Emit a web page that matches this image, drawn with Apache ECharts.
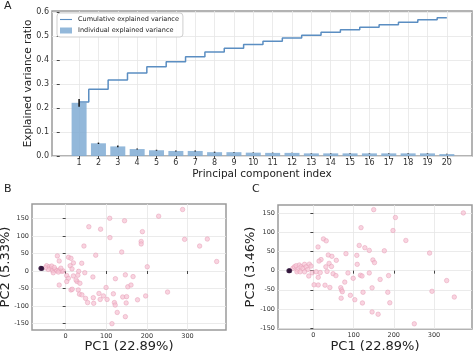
<!DOCTYPE html>
<html>
<head>
<meta charset="utf-8">
<script src="https://cdn.jsdelivr.net/npm/echarts@6/dist/echarts.min.js"></script>
<style>
  html, body { margin: 0; padding: 0; background: #fff; }
  #chart { width: 474px; height: 351px; }
</style>
</head>
<body>
<div id="chart"></div>
<script>
// ---------- Panel A: explained variance ----------
const components = [1, 2, 3, 4, 5, 6, 7, 8, 9, 10, 11, 12, 13, 14, 15, 16, 17, 18, 19, 20];
const individualVar = [0.222, 0.053, 0.040, 0.029, 0.024, 0.021, 0.021, 0.016, 0.016, 0.014,
                       0.013, 0.013, 0.011, 0.011, 0.011, 0.011, 0.011, 0.011, 0.011, 0.008];
const individualErr = [0.016, 0.003, 0.004, 0.002, 0.002, 0.002, 0.002, 0.002, 0.001, 0.001,
                       0.001, 0.001, 0.001, 0.001, 0.001, 0.001, 0.001, 0.001, 0.001, 0.001];
const cumulativeVar = [0.225, 0.278, 0.317, 0.346, 0.372, 0.393, 0.414, 0.434, 0.450, 0.465,
                       0.479, 0.492, 0.504, 0.516, 0.527, 0.537, 0.548, 0.558, 0.568, 0.577];
const varTicks = [0, 0.1, 0.2, 0.3, 0.4, 0.5, 0.6];

// ---------- Panels B / C: PCA scores ----------
const pcTicksX = [0, 100, 200, 300];
const pcTicksY = [-150, -100, -50, 0, 50, 100, 150];

const pc1pc2 = [
  [288, 175], [229, 156], [108.5, 150], [145, 143], [57, 126], [86, 119], [189, 112],
  [109, 95], [186, 84], [186, 77], [293, 90], [349, 91], [330, 71], [45, 71], [138, 54],
  [74, 45], [372, 27], [201, 12], [-20.5, 43], [-16, 28.5], [7, 39], [13, 36], [19, 23],
  [11, 15], [39.5, 22], [15.6, 6], [47, -5], [32, -1], [30, -12], [-16, -40], [2.5, -13],
  [6.6, -21], [2.5, -30], [19, -14], [13, -54], [16, -52], [31, -54], [28, -30], [35, -35],
  [25.5, -25.5], [34, -66], [40, -68], [49, -78], [54, -90], [68, -76], [69, -92], [67, -17],
  [82, -64], [85, -81], [93, -71], [99.5, -47], [102, -81], [117.5, -65], [120, -90],
  [122, -97], [122.5, -22], [127, -118], [114, -150], [147, -11], [153, -45], [161, -40],
  [166, -16], [140.5, -74], [150, -73], [149, -91], [147, -130], [177, -82], [197, -71],
  [251, -60],
  [-47, 15], [-40.5, 12], [-37, 7.5], [-32, 1], [-26, 4.5], [-22, 1], [-16, 2.7], [-10, -1],
  [-6, 0], [-43, 4.5], [-30.6, -5], [-18, -3], [-34.5, 14], [-50, 9], [-28, 10], [-12, 8]
];
const pc1pc2Dark = [[-61, 7.5], [-59, 7]];

const pc1pc3 = [
  [150, 159.6], [373, 151], [204, 139], [118.5, 112.5], [198, 105], [230, 79], [25, 83],
  [32, 78], [11.6, 62], [114, 66], [128, 60], [139, 53], [176.5, 52], [289, 46], [81, 44.5],
  [108, 40], [37, 41], [46, 37.5], [19, 29], [14, 25], [57, 27], [148, 28], [152, 21],
  [39, 19], [109, 16.5], [31, 10], [45, 11], [7, -3], [17, -5], [34, -2], [86, -6],
  [139, -6], [117, -12], [121, -14], [49, -8], [56, -13], [78, -30], [99, -20], [166, -23],
  [187, -13], [12, -17.5], [1.7, -37], [12, -37.5], [29, -38], [41, -44], [68, -44.5],
  [70, -50.5], [72, -55], [69, -72], [92, -64.5], [103, -76], [123.5, -56.5], [146, -45],
  [122, -84.5], [146, -108], [161, -114], [185, -56.5], [190, -84], [251, -139], [295, -54],
  [331.5, -26], [350.5, -69],
  [-51, 6], [-47, 10], [-43, 13], [-39, 1.6], [-35, 14.7], [-30.6, 10], [-26, 6], [-22, 16.5],
  [-18, 10], [-14, 3], [-10, 17], [-5.7, 12], [-41, -3], [-33, -3], [-22, -3], [-11.5, -14],
  [-3, -5.5]
];
const pc1pc3Dark = [[-61, -0.3], [-59, -0.5]];

// ---------- styles ----------
const FONT = 'DejaVu Sans';
const barColor = 'rgba(128, 172, 212, 0.85)';
const lineColor = '#5b8ec2';
const pinkFill = 'rgba(246, 196, 212, 0.9)';
const pinkEdge = '#e39ab3';
const darkDot = '#2b0d35';

// common look of every axis (frame drawn by the grid)
function frameAxis(ticks, fontSize, nameSize, extra) {
  return Object.assign({
    axisLine: { show: false },
    axisTick: { show: true, length: 3, lineStyle: { color: '#444' }, customValues: ticks },
    splitLine: { show: true, lineStyle: { color: '#e6e6e6', width: 0.8 } },
    axisLabel: { color: '#333', fontFamily: FONT, fontSize: fontSize, margin: 3, customValues: ticks },
    nameTextStyle: { color: '#222', fontFamily: FONT, fontSize: nameSize },
    nameLocation: 'middle',
    nameMoveOverlap: false
  }, extra);
}

const gridFrame = {
  show: true, borderColor: '#9a9a9a', borderWidth: 1.5, backgroundColor: '#fff',
  outerBoundsMode: 'none', containLabel: false
};

const chart = echarts.init(document.getElementById('chart'), null, { renderer: 'canvas' });

const yA = frameAxis(varTicks, 8, 10.5, {
  gridIndex: 0, type: 'value', min: 0, max: 0.605,
  name: 'Explained variance ratio', nameGap: 18
});
yA.axisLabel.formatter = v => v.toFixed(1);

const option = {
  animation: false,
  backgroundColor: '#fff',
  textStyle: { fontFamily: FONT },
  grid: [
    Object.assign({ left: 52, right: 2, top: 11, bottom: 195 }, gridFrame),
    Object.assign({ left: 32, top: 204, width: 194, height: 126 }, gridFrame),
    Object.assign({ left: 278, top: 205, width: 194, height: 124 }, gridFrame)
  ],
  xAxis: [
    frameAxis(components, 8, 10.5, {
      gridIndex: 0, type: 'value', min: -0.4, max: 21.3,
      name: 'Principal component index', nameGap: 13
    }),
    frameAxis(pcTicksX, 6.5, 13, {
      gridIndex: 1, type: 'value', min: -83, max: 395,
      name: 'PC1 (22.89%)', nameGap: 10
    }),
    frameAxis(pcTicksX, 6.5, 13, {
      gridIndex: 2, type: 'value', min: -88, max: 394.5,
      name: 'PC1 (22.89%)', nameGap: 11
    })
  ],
  yAxis: [
    yA,
    frameAxis(pcTicksY, 6.5, 13, {
      gridIndex: 1, type: 'value', min: -168, max: 190.7,
      name: 'PC2 (5.33%)', nameGap: 20
    }),
    frameAxis(pcTicksY, 6.5, 13, {
      gridIndex: 2, type: 'value', min: -152.6, max: 171.7,
      name: 'PC3 (3.46%)', nameGap: 21
    })
  ],
  legend: {
    left: 57, top: 13, orient: 'vertical',
    itemWidth: 12, itemHeight: 6, itemGap: 4,
    padding: [3, 4, 3, 3],
    backgroundColor: 'rgba(255,255,255,0.9)',
    borderColor: '#cfcfcf', borderWidth: 1, borderRadius: 3,
    textStyle: { color: '#222', fontFamily: FONT, fontSize: 6.5, padding: [0, 0, 0, 1] },
    data: [
      { name: 'Cumulative explained variance', icon: 'path://M0,0H26V2.4H0Z' },
      { name: 'Individual explained variance', icon: 'rect' }
    ]
  },
  graphic: [
    { type: 'text', left: 4, top: 1, style: { text: 'A', font: '11px "DejaVu Sans"', fill: '#222' } },
    { type: 'text', left: 4, top: 184, style: { text: 'B', font: '11px "DejaVu Sans"', fill: '#222' } },
    { type: 'text', left: 252, top: 184, style: { text: 'C', font: '11px "DejaVu Sans"', fill: '#222' } }
  ],
  series: [
    {
      name: 'Individual explained variance', type: 'bar',
      xAxisIndex: 0, yAxisIndex: 0, barWidth: 15,
      itemStyle: { color: barColor },
      data: components.map((c, i) => [c, individualVar[i]]),
      z: 2
    },
    {
      name: 'errors', type: 'custom', xAxisIndex: 0, yAxisIndex: 0,
      data: components.map((c, i) => [c, individualVar[i] - individualErr[i], individualVar[i] + individualErr[i]]),
      renderItem: function (params, api) {
        const lo = api.coord([api.value(0), api.value(1)]);
        const hi = api.coord([api.value(0), api.value(2)]);
        return {
          type: 'line',
          shape: { x1: lo[0], y1: lo[1], x2: hi[0], y2: hi[1] },
          style: { stroke: '#111', lineWidth: 1.5 }
        };
      },
      z: 4, silent: true
    },
    {
      name: 'Cumulative explained variance', type: 'line', step: 'middle',
      xAxisIndex: 0, yAxisIndex: 0, symbol: 'none',
      lineStyle: { color: lineColor, width: 1.5 },
      itemStyle: { color: lineColor },
      data: components.map((c, i) => [c, cumulativeVar[i]]),
      z: 3
    },
    {
      name: 'pc2', type: 'scatter', xAxisIndex: 1, yAxisIndex: 1, symbolSize: 4.5,
      itemStyle: { color: pinkFill, borderColor: pinkEdge, borderWidth: 0.6 },
      data: pc1pc2
    },
    {
      name: 'pc2dark', type: 'scatter', xAxisIndex: 1, yAxisIndex: 1, symbolSize: 5,
      itemStyle: { color: darkDot },
      data: pc1pc2Dark, z: 3
    },
    {
      name: 'pc3', type: 'scatter', xAxisIndex: 2, yAxisIndex: 2, symbolSize: 4.5,
      itemStyle: { color: pinkFill, borderColor: pinkEdge, borderWidth: 0.6 },
      data: pc1pc3
    },
    {
      name: 'pc3dark', type: 'scatter', xAxisIndex: 2, yAxisIndex: 2, symbolSize: 5,
      itemStyle: { color: darkDot },
      data: pc1pc3Dark, z: 3
    }
  ]
};

chart.setOption(option);
</script>
</body>
</html>
